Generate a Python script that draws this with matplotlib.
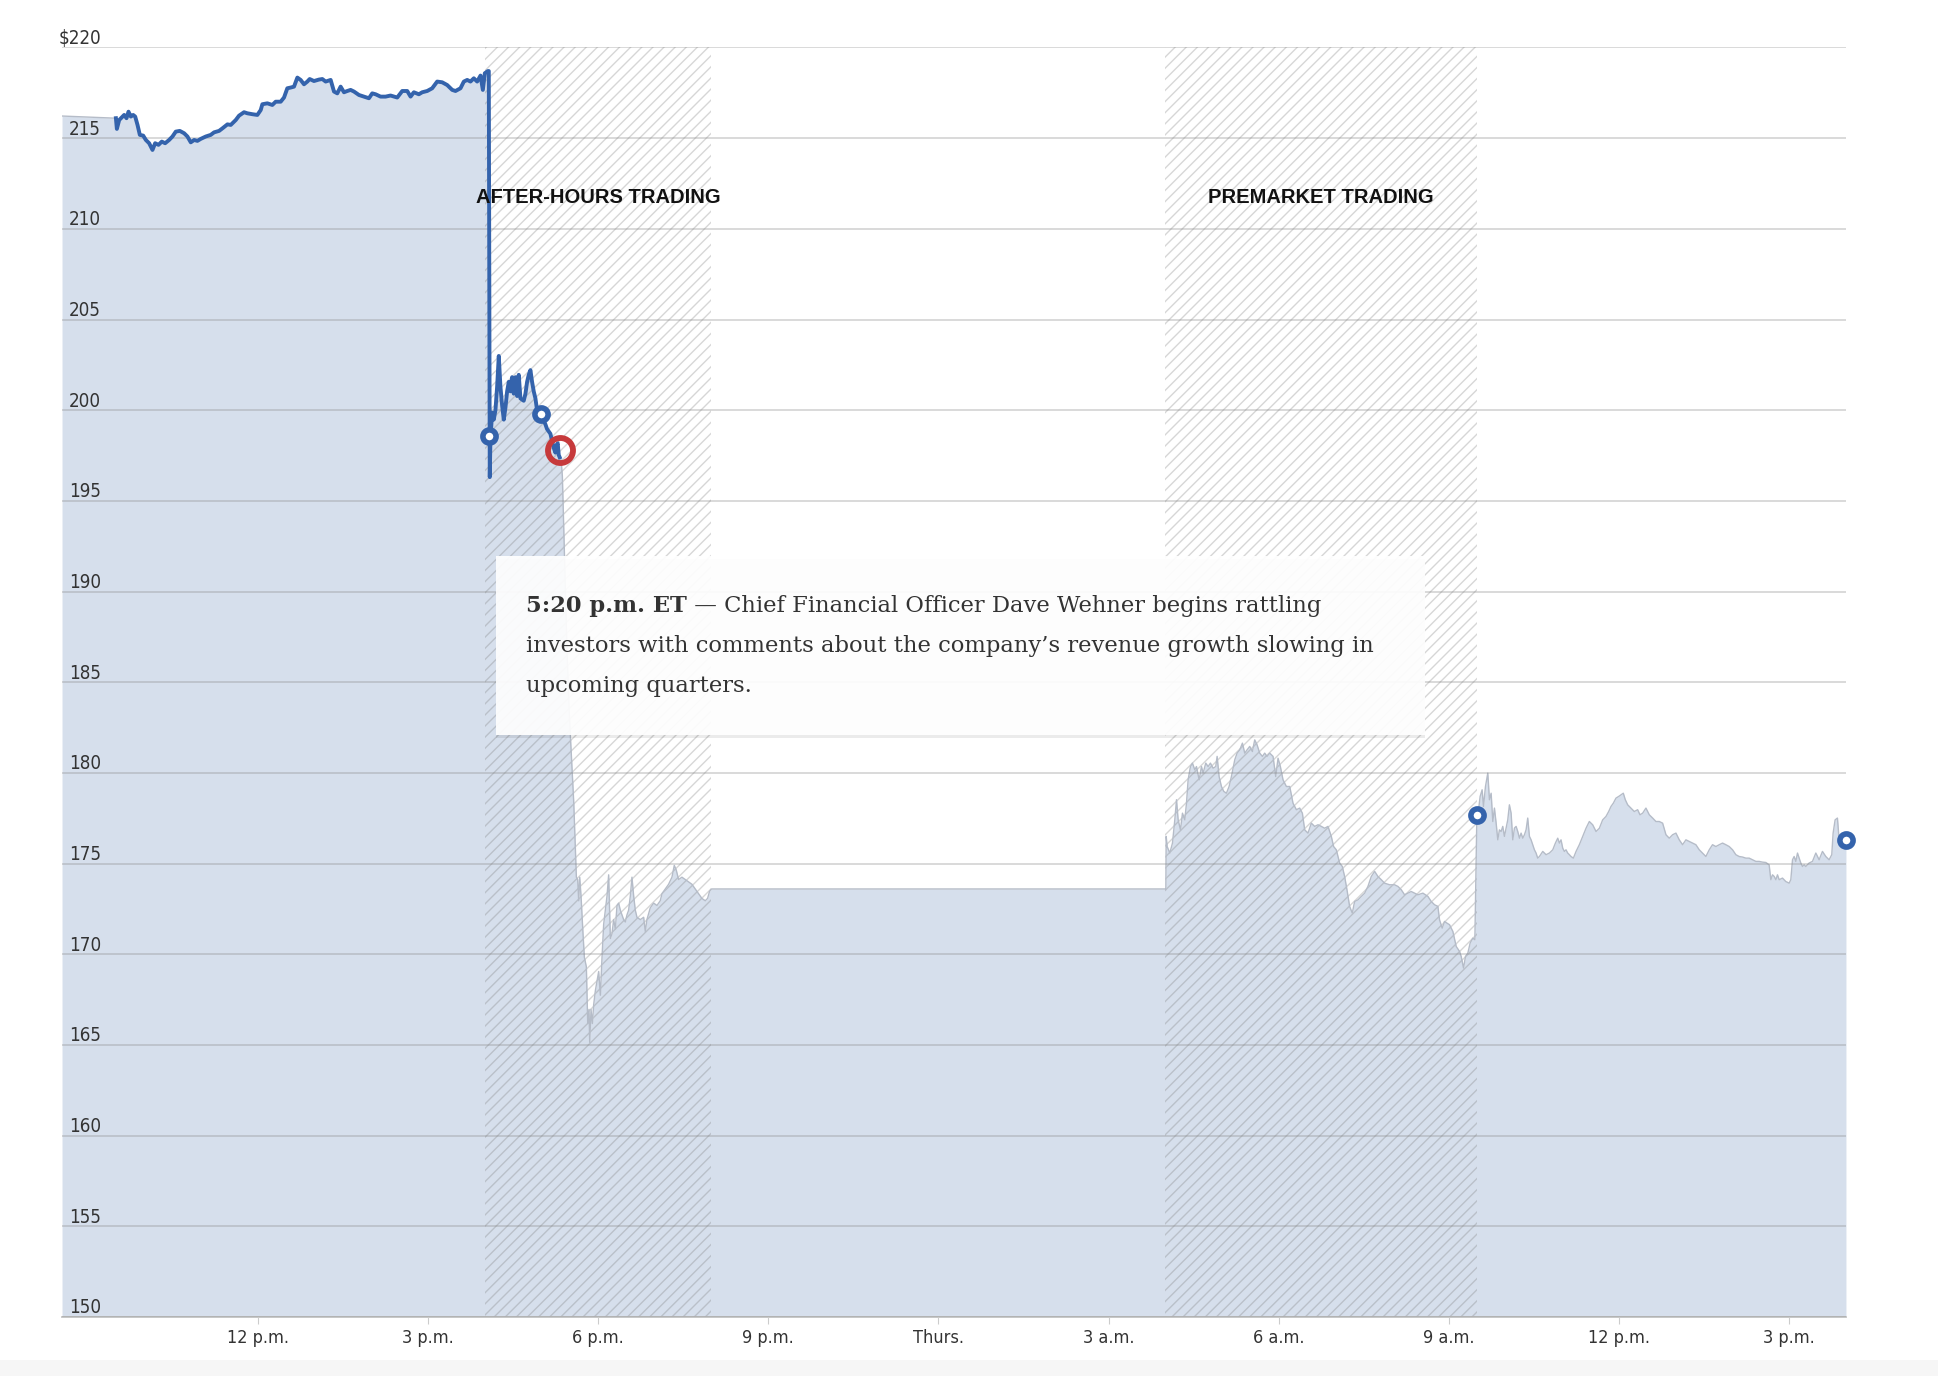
import matplotlib
matplotlib.use("Agg")
import matplotlib.pyplot as plt
import matplotlib.transforms as mtransforms
import matplotlib.patheffects as pe
from matplotlib.patches import Rectangle
import numpy as np

# time is in hours counted from Wednesday midnight, prices in dollars
pre_open_t = [8.55, 9.50]
pre_open_p = [216.22, 216.10]

wed_t = [9.517, 9.558, 9.646, 9.687, 9.722, 9.763, 9.804, 9.840, 9.881, 9.922,
         9.981, 10.028, 10.086, 10.145, 10.192, 10.251, 10.309, 10.368, 10.438, 10.497,
         10.556, 10.626, 10.703, 10.761, 10.820, 10.879, 10.937, 10.996, 11.084, 11.172,
         11.231, 11.319, 11.378, 11.466, 11.525, 11.613, 11.671, 11.759, 11.818, 11.906,
         11.994, 12.053, 12.082, 12.170, 12.258, 12.317, 12.405, 12.464, 12.522, 12.581,
         12.640, 12.699, 12.757, 12.816, 12.875, 12.916, 12.992, 13.080, 13.139, 13.198,
         13.286, 13.345, 13.403, 13.462, 13.521, 13.579, 13.638, 13.697, 13.785, 13.873,
         13.961, 14.019, 14.078, 14.166, 14.254, 14.342, 14.460, 14.548, 14.636, 14.695,
         14.753, 14.841, 14.900, 14.988, 15.076, 15.164, 15.252, 15.340, 15.429, 15.487,
         15.575, 15.634, 15.693, 15.751, 15.810, 15.869, 15.928, 15.969, 16.004, 16.057,
         16.074]
wed_p = [215.51, 216.00, 216.28, 216.10, 216.46, 216.19, 216.28, 216.19, 215.73, 215.18,
         215.14, 214.90, 214.72, 214.35, 214.72, 214.63, 214.81, 214.72, 214.90, 215.09,
         215.36, 215.40, 215.27, 215.09, 214.77, 214.90, 214.85, 214.96, 215.09, 215.18,
         215.32, 215.40, 215.54, 215.76, 215.73, 216.00, 216.24, 216.43, 216.37, 216.32,
         216.28, 216.55, 216.87, 216.92, 216.83, 217.01, 217.01, 217.24, 217.75, 217.79,
         217.84, 218.34, 218.21, 217.97, 218.12, 218.26, 218.15, 218.23, 218.26, 218.12,
         218.21, 217.57, 217.47, 217.84, 217.53, 217.60, 217.66, 217.57, 217.38, 217.29,
         217.20, 217.47, 217.42, 217.29, 217.29, 217.35, 217.24, 217.60, 217.60, 217.29,
         217.53, 217.42, 217.53, 217.60, 217.75, 218.12, 218.08, 217.93, 217.66, 217.60,
         217.75, 218.12, 218.21, 218.12, 218.30, 218.12, 218.45, 217.66, 218.58, 218.70,
         218.70]

after_t = [16.091, 16.103, 16.133, 16.162, 16.191, 16.221, 16.250, 16.279, 16.309, 16.338,
           16.367, 16.397, 16.426, 16.455, 16.485, 16.514, 16.544, 16.573, 16.602, 16.632,
           16.690, 16.720, 16.749, 16.778, 16.808, 16.837, 16.866, 16.896, 16.925, 16.984,
           17.013, 17.072, 17.101, 17.160, 17.219, 17.248, 17.266, 17.289, 17.307, 17.324,
           17.348, 17.371, 17.395, 17.418, 17.453, 17.489, 17.512, 17.542, 17.571, 17.600,
           17.618, 17.641, 17.659, 17.677, 17.700, 17.735, 17.759, 17.794, 17.818, 17.841,
           17.853, 17.876, 17.900, 17.923, 17.953, 17.982, 18.011, 18.041, 18.070, 18.099,
           18.129, 18.158, 18.187, 18.217, 18.246, 18.275, 18.305, 18.334, 18.363, 18.393,
           18.422, 18.451, 18.481, 18.510, 18.539, 18.569, 18.598, 18.628, 18.657, 18.686,
           18.745, 18.804, 18.833, 18.862, 18.921, 18.980, 19.039, 19.097, 19.127, 19.185,
           19.244, 19.303, 19.344, 19.379, 19.420, 19.479, 19.538, 19.596, 19.655, 19.714,
           19.772, 19.831, 19.890, 19.931, 19.966, 20.000]
after_p = [196.31, 198.44, 199.87, 199.48, 200.00, 201.30, 202.99, 201.30, 200.26, 199.48,
           200.13, 201.04, 201.56, 201.04, 201.82, 200.91, 201.82, 200.78, 201.95, 200.65,
           200.52, 200.91, 201.56, 201.95, 202.21, 201.56, 201.04, 200.65, 200.00, 199.80,
           199.61, 199.22, 198.96, 198.70, 197.92, 197.66, 198.05, 198.18, 197.53, 197.40,
           197.27, 196.36, 193.50, 190.90, 186.74, 183.61, 182.05, 180.23, 178.41, 175.81,
           174.25, 174.12, 172.95, 174.25, 173.21, 171.13, 169.83, 169.31, 166.18, 166.96,
           165.14, 166.96, 166.18, 167.22, 168.00, 168.53, 169.05, 167.74, 169.83, 171.65,
           172.43, 173.21, 174.38, 170.87, 171.13, 171.91, 171.39, 172.69, 172.82, 172.43,
           172.17, 171.91, 171.78, 172.17, 172.43, 173.21, 174.25, 173.21, 172.43, 172.04,
           171.91, 172.04, 171.26, 171.91, 172.56, 172.82, 172.69, 172.95, 173.34, 173.60,
           173.86, 174.25, 174.90, 174.64, 174.12, 174.25, 174.12, 173.99, 173.86, 173.60,
           173.34, 173.08, 172.95, 173.08, 173.47, 173.60]

overnight_t = [28.0]
overnight_p = [173.60]

premkt_t = [28.010, 28.016, 28.033, 28.080, 28.127, 28.168, 28.198, 28.227, 28.268, 28.303,
            28.344, 28.374, 28.403, 28.444, 28.479, 28.520, 28.550, 28.597, 28.638, 28.667,
            28.714, 28.755, 28.796, 28.843, 28.890, 28.914, 28.949, 28.990, 29.031, 29.078,
            29.125, 29.166, 29.225, 29.266, 29.313, 29.360, 29.401, 29.442, 29.489, 29.536,
            29.577, 29.618, 29.665, 29.712, 29.753, 29.794, 29.841, 29.900, 29.947, 29.988,
            30.029, 30.076, 30.135, 30.194, 30.252, 30.311, 30.370, 30.417, 30.458, 30.516,
            30.575, 30.634, 30.693, 30.751, 30.810, 30.869, 30.927, 30.968, 31.015, 31.074,
            31.121, 31.162, 31.203, 31.250, 31.297, 31.338, 31.397, 31.456, 31.515, 31.573,
            31.632, 31.691, 31.749, 31.808, 31.867, 31.955, 32.043, 32.102, 32.160, 32.219,
            32.277, 32.336, 32.395, 32.454, 32.542, 32.630, 32.689, 32.747, 32.806, 32.835,
            32.882, 32.923, 32.964, 33.011, 33.070, 33.129, 33.187, 33.217, 33.258, 33.293,
            33.334, 33.375, 33.422, 33.458]
premkt_p = [173.56, 176.50, 175.94, 175.58, 176.13, 177.41, 178.52, 177.41, 176.86, 177.78,
            177.41, 178.33, 179.62, 180.35, 180.54, 180.17, 180.35, 179.62, 180.35, 179.99,
            180.54, 180.35, 180.54, 180.26, 180.35, 180.91, 179.80, 179.25, 178.98, 178.88,
            179.25, 179.80, 180.72, 181.09, 181.27, 181.64, 181.09, 181.27, 181.46, 181.18,
            181.82, 181.55, 181.09, 180.91, 181.09, 180.91, 181.09, 180.91, 179.80, 180.81,
            180.35, 179.62, 179.25, 179.25, 178.33, 177.97, 178.06, 177.78, 176.86, 176.68,
            177.23, 177.05, 177.14, 177.05, 176.95, 177.05, 176.50, 175.94, 175.76, 175.03,
            174.84, 174.29, 173.56, 172.64, 172.27, 172.91, 173.00, 173.19, 173.37, 173.74,
            174.29, 174.57, 174.29, 174.11, 173.92, 173.83, 173.83, 173.74, 173.56, 173.28,
            173.37, 173.46, 173.37, 173.28, 173.37, 173.19, 172.91, 172.73, 172.64, 171.90,
            171.44, 171.81, 171.72, 171.63, 171.26, 170.43, 170.16, 169.88, 169.24, 169.88,
            170.06, 170.62, 170.89, 170.80]

thu_t = [33.492, 33.527, 33.551, 33.586, 33.610, 33.645, 33.686, 33.715, 33.745, 33.774,
         33.803, 33.833, 33.862, 33.891, 33.921, 33.950, 33.979, 34.009, 34.038, 34.067,
         34.097, 34.126, 34.156, 34.185, 34.214, 34.244, 34.273, 34.302, 34.332, 34.361,
         34.390, 34.420, 34.449, 34.478, 34.508, 34.537, 34.566, 34.596, 34.655, 34.713,
         34.772, 34.831, 34.878, 34.919, 34.948, 34.977, 35.007, 35.036, 35.065, 35.095,
         35.124, 35.153, 35.195, 35.242, 35.300, 35.359, 35.418, 35.476, 35.535, 35.594,
         35.653, 35.711, 35.770, 35.817, 35.858, 35.899, 35.946, 35.993, 36.034, 36.075,
         36.110, 36.152, 36.210, 36.269, 36.328, 36.369, 36.416, 36.474, 36.533, 36.592,
         36.650, 36.709, 36.768, 36.827, 36.885, 36.944, 37.003, 37.061, 37.120, 37.179,
         37.237, 37.296, 37.355, 37.414, 37.472, 37.531, 37.590, 37.648, 37.707, 37.766,
         37.825, 37.883, 37.942, 38.001, 38.059, 38.118, 38.177, 38.236, 38.294, 38.353,
         38.412, 38.470, 38.529, 38.588, 38.646, 38.676, 38.705, 38.735, 38.764, 38.793,
         38.823, 38.881, 38.940, 38.999, 39.028, 39.058, 39.087, 39.116, 39.146, 39.175,
         39.204, 39.234, 39.263, 39.292, 39.351, 39.410, 39.469, 39.527, 39.586, 39.645,
         39.703, 39.750, 39.774, 39.809, 39.850, 39.880, 39.927, 39.967, 40.000]
thu_p = [177.41, 178.06, 178.70, 179.07, 178.15, 179.25, 179.99, 178.52, 178.88, 177.32,
         178.06, 177.23, 176.31, 176.86, 176.77, 177.05, 176.50, 176.96, 177.41, 178.24,
         177.78, 176.31, 176.96, 177.05, 176.77, 176.40, 176.68, 176.40, 176.59, 176.86,
         177.51, 176.50, 176.31, 176.04, 175.76, 175.58, 175.30, 175.39, 175.67, 175.49,
         175.58, 175.76, 176.13, 176.40, 176.13, 176.31, 175.85, 175.67, 175.76, 175.58,
         175.49, 175.39, 175.30, 175.67, 176.04, 176.50, 176.95, 177.32, 177.14, 176.77,
         176.95, 177.41, 177.60, 177.87, 178.15, 178.33, 178.61, 178.70, 178.79, 178.88,
         178.52, 178.24, 178.06, 177.87, 177.97, 177.69, 177.78, 178.06, 177.69, 177.51,
         177.32, 177.32, 177.23, 176.59, 176.40, 176.59, 176.68, 176.31, 176.04, 176.31,
         176.22, 176.13, 176.04, 175.76, 175.58, 175.39, 175.76, 176.04, 175.94, 176.04,
         176.13, 176.04, 175.94, 175.76, 175.49, 175.39, 175.36, 175.30, 175.30, 175.21,
         175.12, 175.12, 175.08, 175.06, 174.93, 174.11, 174.38, 174.29, 174.11, 174.38,
         174.11, 174.20, 174.01, 173.92, 174.11, 175.21, 175.39, 175.12, 175.58, 175.30,
         175.03, 174.84, 174.93, 174.84, 175.03, 175.12, 175.58, 175.21, 175.67, 175.39,
         175.21, 175.49, 176.68, 177.41, 177.51, 176.31, 176.13, 176.22, 176.31]

# the highlighted blue line runs from the open to the 5:20 p.m. moment
blue_start, blue_end = 9.5, 17.33
ring_t = [16.07, 16.99, 33.50, 40.00]
ring_p = [198.6, 199.8, 177.7, 176.3]
red_t, red_p = 17.33, 197.8

band_start = [16.0, 28.0]
band_end = [20.0, 33.5]
band_names = ["AFTER-HOURS TRADING", "PREMARKET TRADING"]

x_ticks = [12, 15, 18, 21, 24, 27, 30, 33, 36, 39]
x_labels = ["12 p.m.", "3 p.m.", "6 p.m.", "9 p.m.", "Thurs.",
            "3 a.m.", "6 a.m.", "9 a.m.", "12 p.m.", "3 p.m."]
y_ticks = list(range(150, 221, 5))

note_bold = "5:20 p.m. ET"
note_lines = [" \u2014 Chief Financial Officer Dave Wehner begins rattling",
              "investors with comments about the company\u2019s revenue growth slowing in",
              "upcoming quarters."]

fill_col = "#d6dfec"
blue = "#3463ac"
red = "#c6393b"

plt.rcParams["hatch.linewidth"] = 1.0

t = np.array(pre_open_t + wed_t + after_t + overnight_t + premkt_t + thu_t)
p = np.array(pre_open_p + wed_p + after_p + overnight_p + premkt_p + thu_p)

fig = plt.figure(figsize=(19.38, 13.76), dpi=100)
fig.patches.append(Rectangle((0, 0), 1, 16 / 1376, transform=fig.transFigure,
                             facecolor="#f6f6f6", edgecolor="none", zorder=0))
ax = fig.add_axes([0.0320, 0.0429, 0.9205, 0.9226])
ax.set_xlim(8.55, 40.0)
ax.set_ylim(150, 220)

ax.fill_between(t, p, 150, color=fill_col, lw=0, zorder=1)
ax.plot(t, p, color="#b5bcc8", lw=1.0, zorder=2)

for s, e, name in zip(band_start, band_end, band_names):
    ax.axvspan(s, e, facecolor="none", edgecolor="#7a7a7a", alpha=0.3,
               hatch="///", lw=0, zorder=1.5)
    ax.text((s + e) / 2, 211.7, name, ha="center", va="center", fontsize=14.5,
            fontweight="bold", family="Liberation Sans", color="#111111", zorder=5)

sel = (t >= blue_start) & (t <= blue_end)
ax.plot(t[sel], p[sel], color=blue, lw=2.8, zorder=3, solid_joinstyle="round")
ax.plot(ring_t, ring_p, "o", ms=9.5, mfc="white", mec=blue, mew=4.0,
        zorder=4, clip_on=False)
ax.plot([red_t], [red_p], "o", ms=18, mfc="none", mec=red, mew=4.2, zorder=4)

# grid and axes
ax.set_axisbelow(False)
ax.set_yticks(y_ticks)
ax.tick_params(axis="y", length=0, labelleft=False)
ax.grid(axis="y", color="#888888", alpha=0.4, lw=1.1)
for side in ["left", "right", "top"]:
    ax.spines[side].set_visible(False)
ax.spines["bottom"].set_color("#c4c4c4")
ax.spines["bottom"].set_linewidth(1.3)

ax.set_xticks(x_ticks)
ax.set_xticklabels(x_labels, family="DejaVu Sans", stretch="condensed",
                   fontsize=13, color="#333333")
ax.tick_params(axis="x", length=5, width=0.8, color="#cccccc", pad=4)

ylab_tr = mtransforms.blended_transform_factory(ax.transAxes, ax.transData)
for v in y_ticks:
    lab = "$" + str(v) if v == 220 else str(v)
    ax.annotate(lab, xy=(0.0219, v), xycoords=ylab_tr, xytext=(0, 2.5),
                textcoords="offset points", ha="right", va="baseline",
                fontsize=13.5, family="DejaVu Sans", stretch="condensed",
                color="#333333", zorder=5)

# annotation card
card = Rectangle((0.2433, 0.4585), 0.5207, 0.1409, transform=ax.transAxes,
                 facecolor="white", alpha=0.93, edgecolor="none", zorder=6)
card.set_path_effects([pe.SimplePatchShadow(offset=(0, -2), shadow_rgbFace="k", alpha=0.08),
                       pe.Normal()])
ax.add_patch(card)

serif = "DejaVu Serif"
fs = 16.3
b = ax.text(0.2601, 0.5553, note_bold, transform=ax.transAxes, ha="left", va="baseline",
            fontsize=fs, fontweight="bold", family=serif, color="#333333", zorder=7)
ax.annotate(note_lines[0], xy=(1, 0), xycoords=b, va="bottom", ha="left",
            fontsize=fs, family=serif, color="#333333", zorder=7)
ax.text(0.2601, 0.5238, note_lines[1], transform=ax.transAxes, ha="left", va="baseline",
        fontsize=fs, family=serif, color="#333333", zorder=7)
ax.text(0.2601, 0.4923, note_lines[2], transform=ax.transAxes, ha="left", va="baseline",
        fontsize=fs, family=serif, color="#333333", zorder=7)

fig.savefig("out.png", dpi=100)
